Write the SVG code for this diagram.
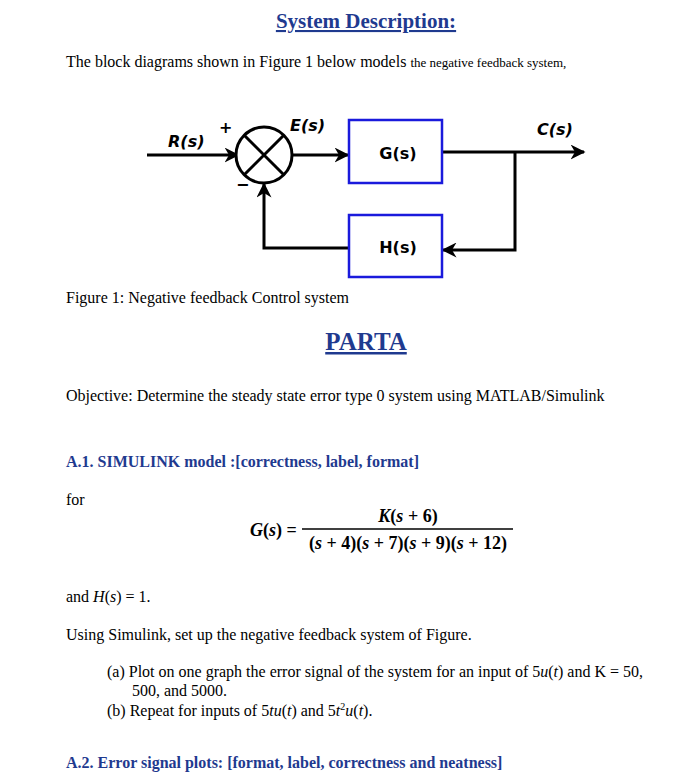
<svg xmlns="http://www.w3.org/2000/svg" width="691" height="781" viewBox="0 0 691 781">
<style>
.t{font-family:"Liberation Serif",serif;font-size:16px;fill:#000}
.h{font-family:"Liberation Serif",serif;font-weight:bold;fill:#1f3a8f}
.d{font-family:"DejaVu Sans",sans-serif;font-weight:bold;font-size:16px;fill:#000}
.m{font-family:"Liberation Serif",serif;font-weight:bold;font-size:18px}
.ln{stroke:#000;stroke-width:3;fill:none}
.bx{fill:#fff;stroke:#1a1adc;stroke-width:2.5}
</style>
<defs><marker id="a" viewBox="0 0 10 10" refX="9" refY="5" markerWidth="5" markerHeight="5" orient="auto"><path d="M0,0L10,5L0,10L3,5z" fill="#000"/></marker></defs>
<rect width="691" height="781" fill="#fff"/>
<text class="h" x="366" y="28" font-size="21" text-anchor="middle" text-decoration="underline">System Description:</text>
<text class="t" x="66" y="67">The block diagrams shown in Figure 1 below models <tspan font-size="13">the negative feedback system,</tspan></text>
<g id="connectors">
<path class="ln" d="M147,155H238" marker-end="url(#a)"/>
<path class="ln" d="M292,155H348" marker-end="url(#a)"/>
<path class="ln" d="M442,152H584" marker-end="url(#a)"/>
<path class="ln" d="M515,152V250H443" marker-end="url(#a)"/>
<path class="ln" d="M349,248H264V184" marker-end="url(#a)"/>
</g>
<g id="sum"><circle cx="264" cy="155" r="28" fill="#fff" stroke="#000" stroke-width="3"/><path class="ln" d="M244,135L284,175M284,135L244,175"/>
<text class="d" x="219" y="133">+</text><text class="d" x="236" y="190" font-size="11">−</text></g>
<g id="G"><rect class="bx" x="349" y="120" width="93" height="63"/><text class="d" x="398" y="159" text-anchor="middle">G(s)</text></g>
<g id="H"><rect class="bx" x="349" y="215" width="93" height="62"/><text class="d" x="398" y="253" text-anchor="middle">H(s)</text></g>
<text class="d" x="168" y="147" font-style="italic">R(s)</text>
<text class="d" x="290" y="131" font-style="italic">E(s)</text>
<text class="d" x="537" y="135" font-style="italic">C(s)</text>
<text class="t" x="66" y="303">Figure 1:  Negative feedback Control system</text>
<text class="h" x="366" y="350" font-size="25" font-weight="normal" text-anchor="middle" text-decoration="underline">PARTA</text>
<text class="t" x="66" y="401">Objective: Determine the steady state error type 0 system using MATLAB/Simulink</text>
<text class="h" x="66" y="467" font-size="16">A.1. SIMULINK model :[correctness, label, format]</text>
<text class="t" x="66" y="505">for</text>
<text class="m" x="250" y="536"><tspan font-style="italic">G</tspan>(<tspan font-style="italic">s</tspan>) =</text>
<text class="m" x="408" y="522" text-anchor="middle"><tspan font-style="italic">K</tspan>(<tspan font-style="italic">s</tspan> + 6)</text>
<line x1="302" y1="529" x2="513" y2="529" stroke="#000" stroke-width="1.5"/>
<text class="m" x="408" y="549" text-anchor="middle">(<tspan font-style="italic">s</tspan> + 4)(<tspan font-style="italic">s</tspan> + 7)(<tspan font-style="italic">s</tspan> + 9)(<tspan font-style="italic">s</tspan> + 12)</text>
<text class="t" x="66" y="602">and <tspan font-style="italic">H</tspan>(<tspan font-style="italic">s</tspan>) = 1.</text>
<text class="t" x="66" y="640">Using Simulink, set up the negative feedback system of Figure.</text>
<text class="t" x="107" y="677">(a) Plot on one graph the error signal of the system for an input of 5<tspan font-style="italic">u</tspan>(<tspan font-style="italic">t</tspan>) and K = 50,</text>
<text class="t" x="132" y="696">500, and 5000.</text>
<text class="t" x="107" y="716">(b) Repeat for inputs of  5<tspan font-style="italic">tu</tspan>(<tspan font-style="italic">t</tspan>) and 5<tspan font-style="italic">t</tspan><tspan font-size="10" dy="-6">2</tspan><tspan dy="6" font-style="italic">u</tspan>(<tspan font-style="italic">t</tspan>).</text>
<text class="h" x="66" y="768" font-size="16">A.2. Error signal plots: [format, label, correctness and neatness]</text>
</svg>
